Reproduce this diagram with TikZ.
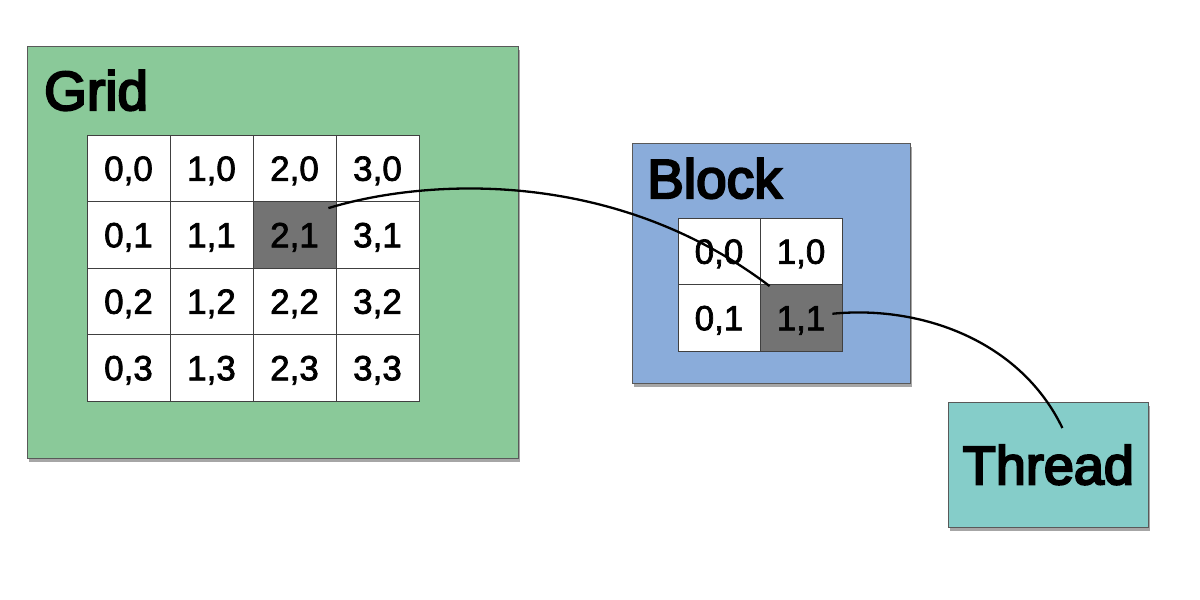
\documentclass[tikz,border=0pt]{standalone}
\usepackage{fontspec}
\setmainfont{Liberation Sans}
\newfontfamily\titlefont[FakeBold=4]{Liberation Sans}
\newfontfamily\digitfont[FakeBold=2]{Liberation Sans}
\usetikzlibrary{shadows,calc}
\definecolor{gridgreen}{HTML}{8AC999}
\definecolor{blockblue}{HTML}{8AACDA}
\definecolor{threadteal}{HTML}{85CDC9}
\definecolor{cellgray}{HTML}{737373}
\begin{document}
\begin{tikzpicture}[x=1pt,y=-1pt,
  panel/.style={draw=black!65, line width=0.8pt, anchor=north west, inner sep=0pt,
    drop shadow={shadow xshift=1.5pt, shadow yshift=-4pt, opacity=0.35, fill=black}},
  cellbox/.style={draw=black!75, line width=0.8pt, fill=white, minimum width=83pt,
    minimum height=66.5pt, inner sep=0pt, text height=25pt, text depth=0pt,
    font=\digitfont\fontsize{35}{40}\selectfont},
  bcellbox/.style={cellbox, minimum width=82pt},
  hot/.style={fill=cellgray},
  title/.style={font=\titlefont\fontsize{55}{60}\selectfont, anchor=base west, inner sep=0pt},
  link/.style={draw=black, line width=2.3pt}]
\useasboundingbox (0,0) rectangle (1200,600);
% Grid panel
\node[panel, fill=gridgreen, minimum width=491pt, minimum height=412pt] (grid) at (27,46) {};
\node[title] (gridlabel) at (44,110) {Grid};
\foreach \i in {0,...,3}{
  \foreach \j in {0,...,3}{
    \node[cellbox] (g\i\j) at ({87+83*\i+41.5},{135+66.5*\j+33.25}) {\i,\j};
  }
}
\node[cellbox, hot] (g21) at ({87+83*2+41.5},{135+66.5*1+33.25}) {2,1};
% Block panel
\node[panel, fill=blockblue, minimum width=278pt, minimum height=240pt] (block) at (632,143) {};
\node[title] (blocklabel) at (647,198) {Block};
\foreach \i in {0,1}{
  \foreach \j in {0,1}{
    \node[bcellbox] (b\i\j) at ({678+82*\i+41},{218+66.5*\j+33.25}) {\i,\j};
  }
}
\node[bcellbox, hot] (b11) at ({678+82+41},{218+66.5+33.25}) {1,1};
% Thread panel
\node[panel, fill=threadteal, minimum width=200pt, minimum height=125pt,
  font=\titlefont\fontsize{54}{60}\selectfont] (thread) at (948,402) {Thread};
% Links
\draw[link] ($(g21.north east)+(-8,7)$) .. controls (420,180) and (610,165) .. ($(b11.north west)+(10,2)$);
\draw[link] ($(b11.east)+(-10,-4)$) .. controls (920,305) and (1020,340) .. ($(thread.north)+(14,26)$);
\end{tikzpicture}
\end{document}
